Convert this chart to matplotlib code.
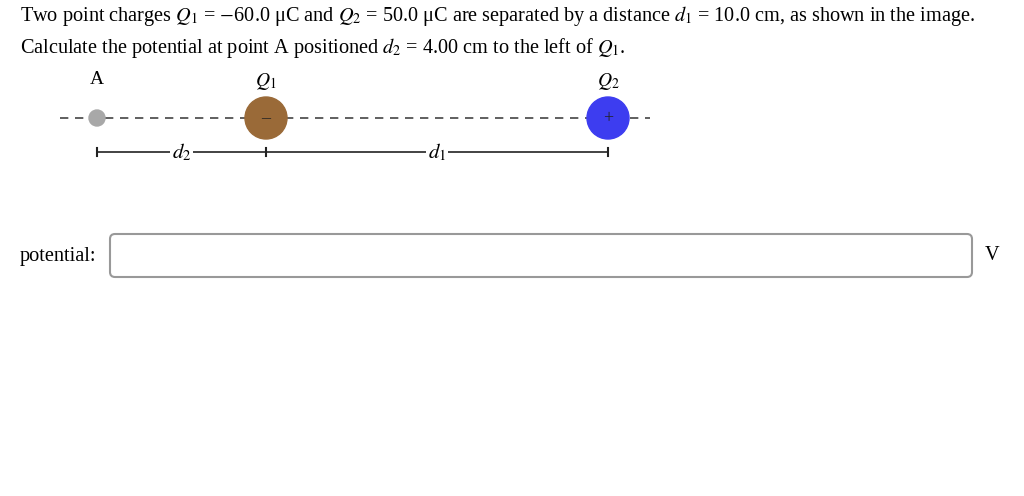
import matplotlib
matplotlib.use("Agg")
import matplotlib.pyplot as plt
from matplotlib.patches import Circle, FancyBboxPatch

labels = ["A", "$Q_1$", "$Q_2$"]
xpos = [97, 266, 608]
radii = [8, 21, 21]
colors = ["#a8a8a8", "#9a6a38", "#3d3df0"]
signs = ["", "\u2013", "+"]

plt.rcParams['font.family'] = ['Liberation Serif', 'DejaVu Serif']
plt.rcParams['mathtext.fontset'] = 'stix'
fig = plt.figure(figsize=(10.24, 4.96), dpi=100)
ax = fig.add_axes([0, 0, 1, 1])
ax.set_xlim(0, 1024); ax.set_ylim(496, 0); ax.axis('off')

fs = 14.6
ax.text(20, 16, r"Two point charges $Q_1$ = $-$60.0 μC and $Q_2$ = 50.0 μC are separated by a distance $d_1$ = 10.0 cm, as shown in the image.",
        fontsize=fs, va='center')
ax.text(20, 48, r"Calculate the potential at point A positioned $d_2$ = 4.00 cm to the left of $Q_1$.", fontsize=fs, va='center')

yl = 118
ax.plot([60, 650], [yl, yl], ls=(0, (5, 4)), color='#444', lw=1.2, zorder=1)
for x, r, c, s, l in zip(xpos, radii, colors, signs, labels):
    ax.add_patch(Circle((x, yl), r, color=c, zorder=2))
    if s:
        ax.text(x, yl + 1, s, ha='center', va='center', fontsize=13, color='#222', zorder=3)
    ax.text(x, 80 if l == "A" else 82, l, ha='center', va='center', fontsize=14)

ys = 152
ax.plot([xpos[0], xpos[2]], [ys, ys], color='#222', lw=1.2)
for x in xpos:
    ax.plot([x, x], [ys - 4, ys + 4], color='#222', lw=1.5)
for x0, x1, l in [(xpos[0], xpos[1], "$d_2$"), (xpos[1], xpos[2], "$d_1$")]:
    ax.text((x0 + x1) / 2, ys, l, ha='center', va='center', fontsize=15,
            bbox=dict(fc='white', ec='none', pad=1))

ax.add_patch(FancyBboxPatch((110, 234), 862, 43, boxstyle="round,pad=0,rounding_size=5",
                            fc='white', ec='#999', lw=1.5))
ax.text(20, 256, "potential:", fontsize=fs, va='center')
ax.text(985, 256, "V", fontsize=fs, va='center')
fig.savefig("out.png", dpi=100)
